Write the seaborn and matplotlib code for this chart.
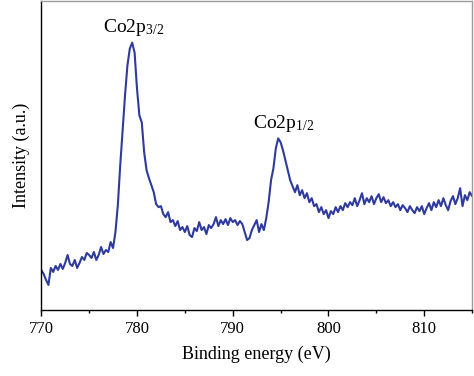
import numpy as np
import pandas as pd
import seaborn as sns
import matplotlib
matplotlib.use("Agg")
import matplotlib.pyplot as plt
from matplotlib.ticker import MultipleLocator

# Co 2p XPS spectrum (0.25 eV steps from 770 to 815 eV)
intensity = [
    40, 36, 30, 25, 42, 38, 44, 40, 46, 41, 47, 55, 46, 44, 50, 42,
    47, 53, 50, 57, 55, 52, 58, 50, 55, 63, 56, 60, 58, 68, 62, 78,
    105, 145, 180, 215, 245, 262, 268, 258, 222, 195, 188, 158, 140, 132, 125, 118,
    106, 103, 104, 96, 93, 98, 88, 90, 84, 89, 80, 83, 78, 84, 75, 73,
    82, 79, 88, 80, 83, 76, 85, 82, 86, 93, 84, 90, 86, 91, 85, 92,
    88, 90, 85, 89, 86, 78, 70, 72, 80, 85, 90, 78, 86, 80, 92, 108,
    130, 142, 162, 172, 168, 160, 150, 140, 130, 124, 118, 125, 115, 120, 112, 117,
    108, 112, 104, 106, 98, 103, 96, 100, 92, 99, 96, 103, 98, 104, 100, 107,
    103, 108, 105, 112, 104, 110, 117, 106, 112, 108, 114, 106, 112, 116, 108, 113,
    107, 110, 104, 108, 103, 106, 100, 105, 102, 98, 104, 100, 97, 103, 99, 104,
    96, 102, 107, 100, 108, 103, 110, 104, 112, 105, 100, 109, 114, 106, 112, 122,
    104, 115, 110, 118, 114,
]
energy = np.linspace(770, 815, len(intensity))

peak_labels = [r"Co2p$_{\mathregular{3/2}}$", r"Co2p$_{\mathregular{1/2}}$"]
peak_pos = [(779.7, 279), (795.3, 182)]

df = pd.DataFrame({"energy": energy, "intensity": intensity})

sns.set_theme(style="ticks")
plt.rcParams["font.family"] = ["Liberation Serif", "DejaVu Serif"]
plt.rcParams["mathtext.fontset"] = "stix"
plt.rcParams["text.color"] = "black"
plt.rcParams["axes.labelcolor"] = "black"

fig = plt.figure(figsize=(4.74, 3.76), dpi=100)
ax = fig.add_axes([0.087, 0.176, 0.909, 0.822])

sns.lineplot(data=df, x="energy", y="intensity", ax=ax, color="#2e3b9c", linewidth=1.5)

ax.set_xlim(770, 815)
ax.set_ylim(0, 310)
ax.set_yticks([])
ax.xaxis.set_major_locator(MultipleLocator(10))
ax.xaxis.set_minor_locator(MultipleLocator(5))
ax.tick_params(axis="x", which="major", direction="out", length=4, width=1,
               labelsize=12, pad=4, colors="black")
ax.tick_params(axis="x", which="minor", direction="out", length=2.5, width=1, colors="black")

for side in ["left", "bottom"]:
    ax.spines[side].set_color("black")
    ax.spines[side].set_linewidth(1)
for side in ["top", "right"]:
    ax.spines[side].set_visible(True)
    ax.spines[side].set_color("#9a9a9a")
    ax.spines[side].set_linewidth(1)

ax.set_xlabel("Binding energy (eV)", fontsize=13, labelpad=6, color="black")
ax.set_ylabel("Intensity (a.u.)", fontsize=13, labelpad=8, color="black")

for txt, (x, y) in zip(peak_labels, peak_pos):
    ax.text(x, y, txt, ha="center", va="baseline", fontsize=14, color="black")

fig.savefig("out.png", dpi=100)
